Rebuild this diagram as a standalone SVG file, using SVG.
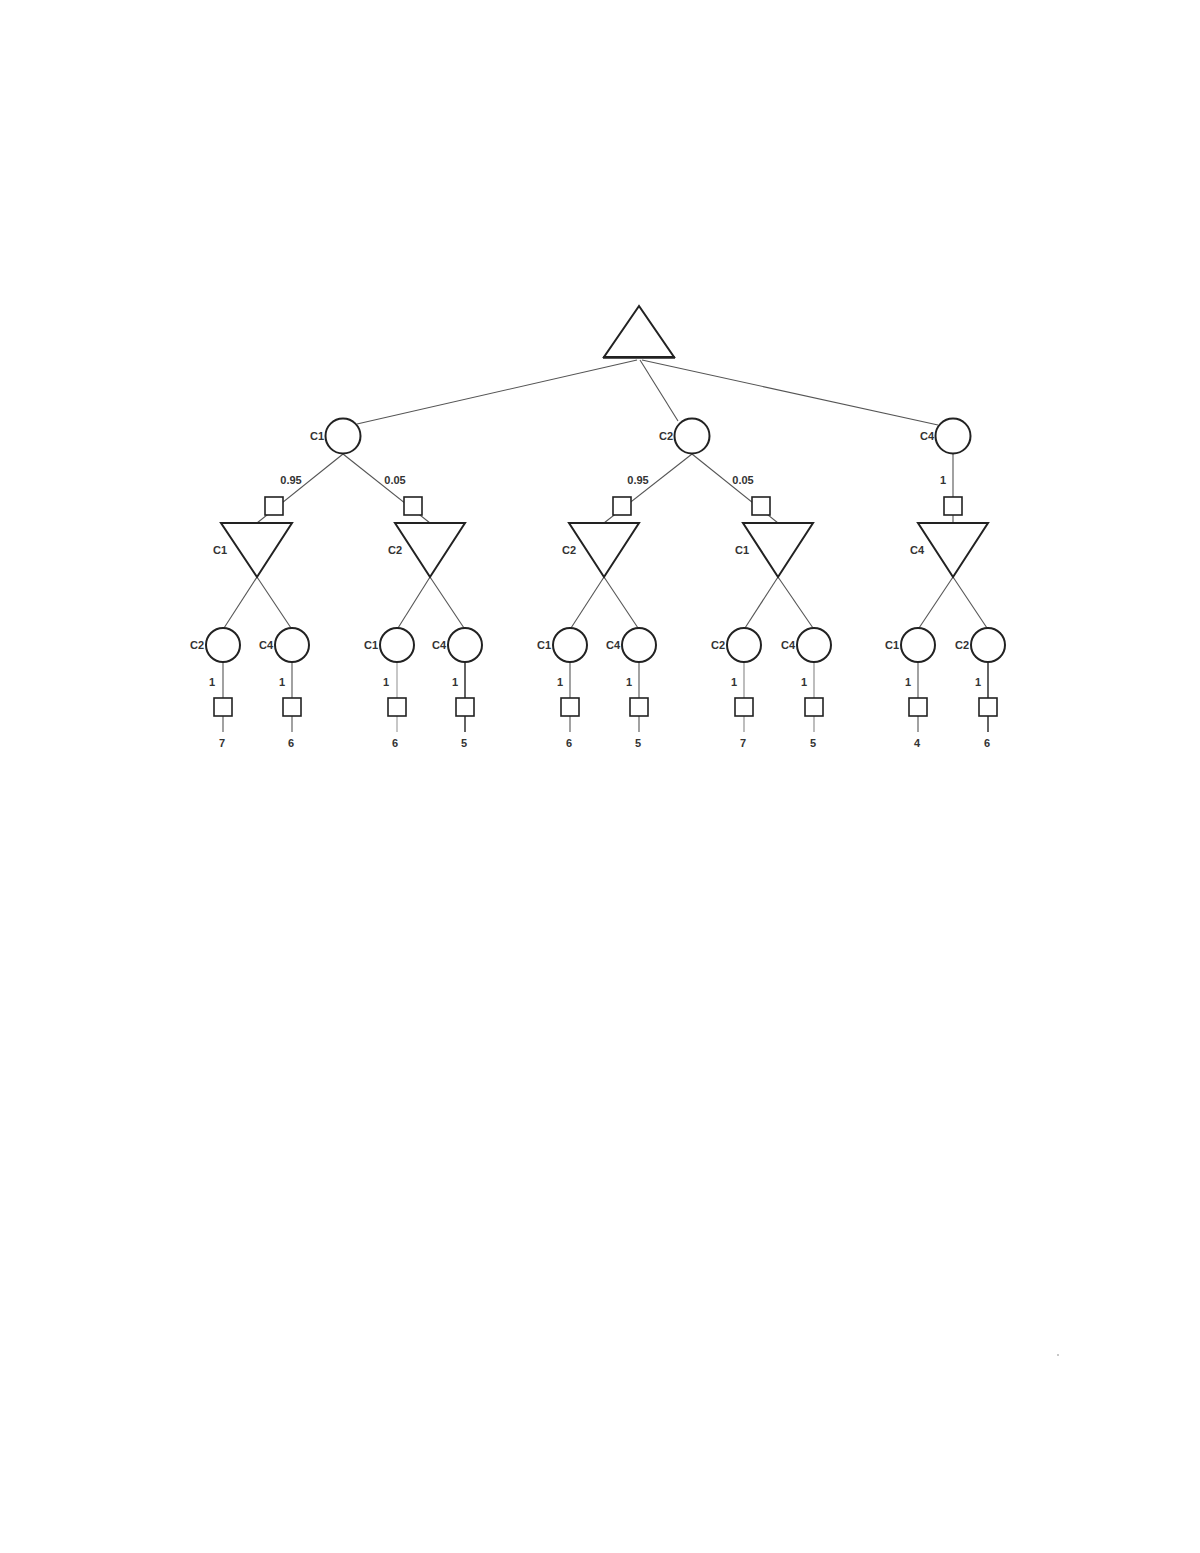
<svg xmlns="http://www.w3.org/2000/svg" width="1200" height="1553" viewBox="0 0 1200 1553">
<style>
.bg{fill:#fff}
.c{fill:#fff;stroke:#222;stroke-width:2}
.sq{fill:#fff;stroke:#222;stroke-width:1.6}
.tri{fill:#fff;stroke:#222;stroke-width:2;stroke-linejoin:miter}
.ln{stroke:#555;stroke-width:1.1;fill:none}
.t{font-family:"Liberation Sans",Arial,sans-serif;font-size:11px;font-weight:bold;fill:#333}
.m{text-anchor:middle}
.e{text-anchor:end}
</style>
<rect class="bg" x="0" y="0" width="1200" height="1553"/>
<g id="connectors">
<line class="ln" x1="637" y1="360" x2="357" y2="424"/>
<line class="ln" x1="640" y1="360" x2="678" y2="421"/>
<line class="ln" x1="642" y1="360" x2="938" y2="425"/>
<line class="ln" x1="343" y1="454" x2="257" y2="523"/>
<line class="ln" x1="343" y1="454" x2="430" y2="523"/>
<line class="ln" x1="692" y1="454" x2="604" y2="523"/>
<line class="ln" x1="692" y1="454" x2="778" y2="523"/>
<line class="ln" x1="953" y1="454" x2="953" y2="523"/>
<line class="ln" x1="257" y1="577" x2="224" y2="628"/><line class="ln" x1="257" y1="577" x2="291" y2="628"/>
<line class="ln" x1="430" y1="577" x2="398" y2="628"/><line class="ln" x1="430" y1="577" x2="464" y2="628"/>
<line class="ln" x1="604" y1="577" x2="571" y2="628"/><line class="ln" x1="604" y1="577" x2="638" y2="628"/>
<line class="ln" x1="778" y1="577" x2="745" y2="628"/><line class="ln" x1="778" y1="577" x2="813" y2="628"/>
<line class="ln" x1="953" y1="577" x2="919" y2="628"/><line class="ln" x1="953" y1="577" x2="987" y2="628"/>
<line class="ln" x1="223" y1="662" x2="223" y2="732"/>
<line class="ln" x1="292" y1="662" x2="292" y2="732"/>
<line class="ln" x1="397" y1="662" x2="397" y2="732" style="stroke:#999"/>
<line class="ln" x1="465" y1="662" x2="465" y2="732" style="stroke:#222;stroke-width:1.4"/>
<line class="ln" x1="570" y1="662" x2="570" y2="732"/>
<line class="ln" x1="639" y1="662" x2="639" y2="732"/>
<line class="ln" x1="744" y1="662" x2="744" y2="732" style="stroke:#888"/>
<line class="ln" x1="814" y1="662" x2="814" y2="732" style="stroke:#888"/>
<line class="ln" x1="918" y1="662" x2="918" y2="732"/>
<line class="ln" x1="988" y1="662" x2="988" y2="732" style="stroke:#222;stroke-width:1.4"/>
</g>
<g id="root">
<polygon class="tri" points="639,306 604,357 674,357"/>
<line x1="603" y1="357.5" x2="675" y2="357.5" stroke="#222" stroke-width="2.5"/>
</g>
<g id="n-C1">
<circle class="c" cx="343" cy="436" r="17.5"/>
<text class="t e" x="324" y="440">C1</text>
<text class="t m" x="291" y="484">0.95</text>
<text class="t m" x="395" y="484">0.05</text>
</g>
<g id="n-C2">
<circle class="c" cx="692" cy="436" r="17.5"/>
<text class="t e" x="673" y="440">C2</text>
<text class="t m" x="638" y="484">0.95</text>
<text class="t m" x="743" y="484">0.05</text>
</g>
<g id="n-C4">
<circle class="c" cx="953" cy="436" r="17.5"/>
<text class="t e" x="934" y="440">C4</text>
<text class="t m" x="943" y="484">1</text>
</g>
<g id="sub-A">
<rect class="sq" x="265" y="497" width="18" height="18"/>
<polygon class="tri" points="221,523 292,523 257,577"/>
<text class="t m" x="220" y="554">C1</text>
</g>
<g id="sub-B">
<rect class="sq" x="404" y="497" width="18" height="18"/>
<polygon class="tri" points="395,523 465,523 430,577"/>
<text class="t m" x="395" y="554">C2</text>
</g>
<g id="sub-C">
<rect class="sq" x="613" y="497" width="18" height="18"/>
<polygon class="tri" points="569,523 639,523 604,577"/>
<text class="t m" x="569" y="554">C2</text>
</g>
<g id="sub-D">
<rect class="sq" x="752" y="497" width="18" height="18"/>
<polygon class="tri" points="743,523 813,523 778,577"/>
<text class="t m" x="742" y="554">C1</text>
</g>
<g id="sub-E">
<rect class="sq" x="944" y="497" width="18" height="18"/>
<polygon class="tri" points="918,523 988,523 953,577"/>
<text class="t m" x="917" y="554">C4</text>
</g>
<g id="leaf-1"><circle class="c" cx="223" cy="645" r="17"/><text class="t e" x="204" y="649">C2</text><text class="t m" x="212" y="686">1</text><rect class="sq" x="214" y="698" width="18" height="18"/><text class="t m" x="222" y="747">7</text></g>
<g id="leaf-2"><circle class="c" cx="292" cy="645" r="17"/><text class="t e" x="273" y="649">C4</text><text class="t m" x="282" y="686">1</text><rect class="sq" x="283" y="698" width="18" height="18"/><text class="t m" x="291" y="747">6</text></g>
<g id="leaf-3"><circle class="c" cx="397" cy="645" r="17"/><text class="t e" x="378" y="649">C1</text><text class="t m" x="386" y="686">1</text><rect class="sq" x="388" y="698" width="18" height="18"/><text class="t m" x="395" y="747">6</text></g>
<g id="leaf-4"><circle class="c" cx="465" cy="645" r="17"/><text class="t e" x="446" y="649">C4</text><text class="t m" x="455" y="686">1</text><rect class="sq" x="456" y="698" width="18" height="18"/><text class="t m" x="464" y="747">5</text></g>
<g id="leaf-5"><circle class="c" cx="570" cy="645" r="17"/><text class="t e" x="551" y="649">C1</text><text class="t m" x="560" y="686">1</text><rect class="sq" x="561" y="698" width="18" height="18"/><text class="t m" x="569" y="747">6</text></g>
<g id="leaf-6"><circle class="c" cx="639" cy="645" r="17"/><text class="t e" x="620" y="649">C4</text><text class="t m" x="629" y="686">1</text><rect class="sq" x="630" y="698" width="18" height="18"/><text class="t m" x="638" y="747">5</text></g>
<g id="leaf-7"><circle class="c" cx="744" cy="645" r="17"/><text class="t e" x="725" y="649">C2</text><text class="t m" x="734" y="686">1</text><rect class="sq" x="735" y="698" width="18" height="18"/><text class="t m" x="743" y="747">7</text></g>
<g id="leaf-8"><circle class="c" cx="814" cy="645" r="17"/><text class="t e" x="795" y="649">C4</text><text class="t m" x="804" y="686">1</text><rect class="sq" x="805" y="698" width="18" height="18"/><text class="t m" x="813" y="747">5</text></g>
<g id="leaf-9"><circle class="c" cx="918" cy="645" r="17"/><text class="t e" x="899" y="649">C1</text><text class="t m" x="908" y="686">1</text><rect class="sq" x="909" y="698" width="18" height="18"/><text class="t m" x="917" y="747">4</text></g>
<g id="leaf-10"><circle class="c" cx="988" cy="645" r="17"/><text class="t e" x="969" y="649">C2</text><text class="t m" x="978" y="686">1</text><rect class="sq" x="979" y="698" width="18" height="18"/><text class="t m" x="987" y="747">6</text></g>
<circle cx="1058" cy="1355" r="0.7" fill="#666"/>
</svg>
